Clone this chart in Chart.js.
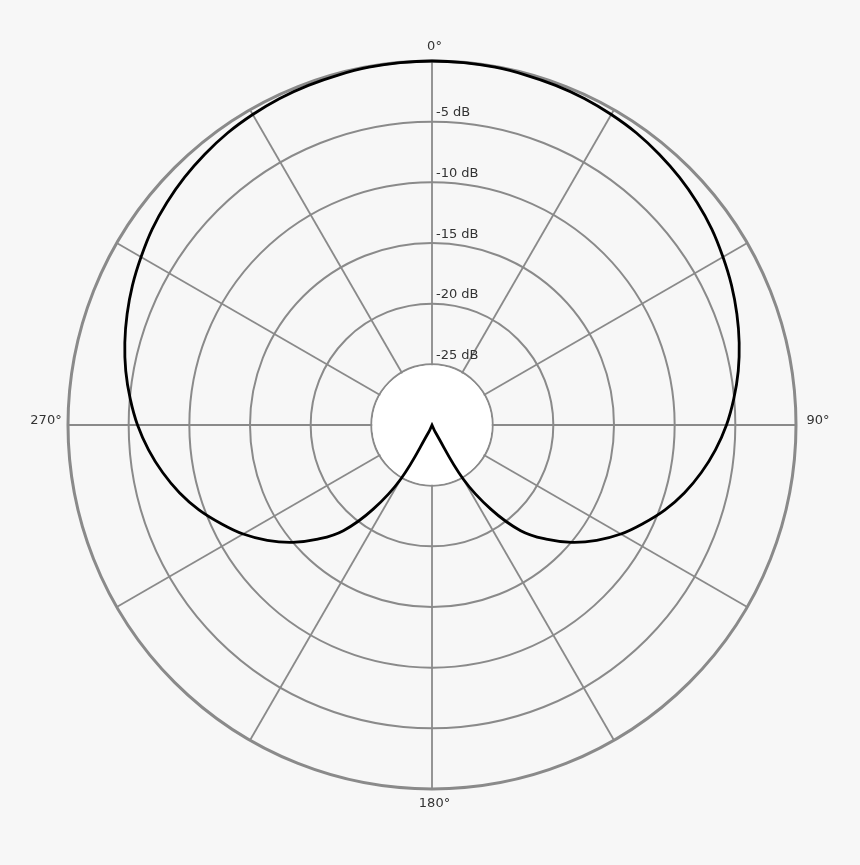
<!DOCTYPE html>
<html>
<head>
<meta charset="utf-8">
<title>Polar pattern</title>
<script src="https://cdn.jsdelivr.net/npm/chart.js@4.4.1/dist/chart.umd.min.js"></script>
<style>
  html, body { margin: 0; padding: 0; background: #f7f7f7; }
  #wrap { position: relative; width: 860px; height: 865px; }
</style>
</head>
<body>
<div id="wrap"><canvas id="polar"></canvas></div>
<script>
(function () {
  'use strict';

  // angles (deg, clockwise from front), one category every 5°
  const angles = Array.from({ length: 72 }, (_, i) => i * 5);

  // level in dB, 0° .. 355°
  const levelDb = [
     0.00, -0.02, -0.06, -0.14, -0.21, -0.30, -0.45, -0.62, -0.87, -1.15,   //   0 -  45
    -1.48, -1.85, -2.31, -2.76, -3.26, -3.79, -4.37, -5.03, -5.73, -6.55,   //  50 -  95
    -7.46, -8.45, -9.56, -10.80, -12.03, -13.43, -14.96, -16.69, -18.63, -21.51, // 100 - 145
    -24.89, -29.34, -30, -30, -30, -30, -30, -30, -30, -30,                 // 150 - 195
    -30, -29.34, -24.89, -21.51, -18.63, -16.69, -14.96, -13.43, -12.03, -10.80, // 200 - 245
    -9.56, -8.45, -7.46, -6.55, -5.73, -5.03, -4.37, -3.79, -3.26, -2.76,   // 250 - 295
    -2.31, -1.85, -1.48, -1.15, -0.87, -0.62, -0.45, -0.30, -0.21, -0.14,   // 300 - 345
    -0.06, -0.02                                                            // 350 - 355
  ];

  // radial ticks
  const dbMin = -30, dbMax = 0, dbStep = 5;
  const ringLabels = [-5, -10, -15, -20, -25];
  const hubLevel = -25;

  // compass labels
  const compassAngles = [0, 90, 180, 270];
  const compassLabels = ['0°', '90°', '180°', '270°'];

  const GRID = '#8a8a8a';
  const TEXT = '#333';
  const FONT = '13px "DejaVu Sans", Verdana, sans-serif';

  // plugin: white hub + texts
  const decorPlugin = {
    id: 'polarDecor',
    beforeDatasetsDraw(chart) {
      const s = chart.scales.r;
      const ctx = chart.ctx;
      ctx.save();
      ctx.fillStyle = '#ffffff';
      ctx.beginPath();
      ctx.arc(s.xCenter, s.yCenter, s.getDistanceFromCenterForValue(hubLevel) - 1, 0, Math.PI * 2);
      ctx.fill();
      ctx.restore();
    },
    afterDatasetsDraw(chart) {
      const s = chart.scales.r;
      const ctx = chart.ctx;
      ctx.save();
      ctx.font = FONT;
      ctx.fillStyle = TEXT;

      // dB ticks, just above each ring, right of the 0° spoke
      ctx.textAlign = 'left';
      ctx.textBaseline = 'alphabetic';
      ringLabels.forEach(v => {
        const d = s.getDistanceFromCenterForValue(v);
        ctx.fillText(v + ' dB', s.xCenter + 4, s.yCenter - d - 5.5);
      });

      // 0 / 90 / 180 / 270
      ctx.textAlign = 'center';
      compassLabels.forEach((txt, k) => {
        const a = compassAngles[k];
        const idx = angles.indexOf(a);
        const vertical = a % 180 === 0;
        const gap = a === 0 ? 11 : (a === 180 ? 18 : 22);
        const p = s.getPointPosition(idx, s.drawingArea + gap);
        ctx.fillText(txt, p.x + (vertical ? 2.5 : 0), p.y + (vertical ? 0 : -1));
      });
      ctx.restore();
    }
  };

  new Chart(document.getElementById('polar'), {
    type: 'radar',
    data: {
      labels: angles.map(a => a + '°'),
      datasets: [{
        data: levelDb,
        borderColor: '#000',
        borderWidth: 2.8,
        pointRadius: 0,
        pointHoverRadius: 0,
        fill: false,
        tension: 0.4
      }]
    },
    options: {
      responsive: true,
      maintainAspectRatio: false,
      animation: false,
      events: [],
      layout: { padding: { left: 68, right: 63, top: 61, bottom: 75 } },
      plugins: {
        legend: { display: false },
        tooltip: { enabled: false }
      },
      scales: {
        r: {
          min: dbMin,
          max: dbMax,
          startAngle: 0,
          ticks: { display: false, stepSize: dbStep },
          pointLabels: { display: false },
          grid: {
            circular: true,
            color: (c) => (c.index === 0 ? 'rgba(0,0,0,0)' : GRID),
            lineWidth: (c) => (c.tick && c.tick.value === dbMax ? 3 : 2)
          },
          angleLines: {
            display: true,
            color: GRID,
            lineWidth: (c) => (angles[c.index] % 30 === 0 ? 1.8 : 0)
          }
        }
      }
    },
    plugins: [decorPlugin]
  });
})();
</script>
</body>
</html>
